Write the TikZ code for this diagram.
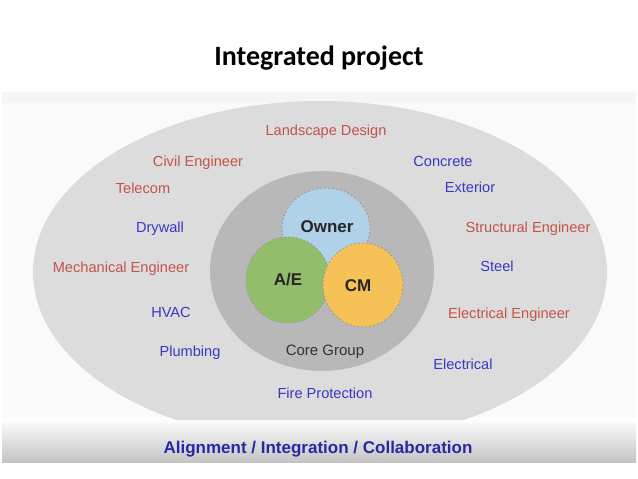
\documentclass[tikz,border=0pt]{standalone}
\usepackage{fontspec}
\setmainfont{Liberation Sans}
\newfontfamily\titlefont{Carlito}
\definecolor{redtxt}{RGB}{194,84,74}
\definecolor{bluetxt}{RGB}{56,56,192}
\definecolor{darkblue}{RGB}{40,40,165}
\definecolor{ellgray}{RGB}{220,220,220}
\definecolor{coregray}{RGB}{184,184,184}
\definecolor{ownerblue}{RGB}{176,210,232}
\definecolor{aegreen}{RGB}{146,189,106}
\definecolor{cmorange}{RGB}{246,194,88}
\definecolor{bandgray}{RGB}{196,196,196}
\tikzset{
  redlbl/.style={text=redtxt, font=\fontsize{14.6}{16}\selectfont, inner sep=0pt},
  bluelbl/.style={text=bluetxt, font=\fontsize{14.6}{16}\selectfont, inner sep=0pt},
  corelbl/.style={text=black!85, font=\fontsize{17}{19}\selectfont\bfseries, inner sep=0pt},
  partycircle/.style={draw=black!40, line width=0.8pt, dash pattern=on 2pt off 2pt}
}
\begin{document}
\begin{tikzpicture}[x=1pt,y=-1pt]
\useasboundingbox (0,0) rectangle (638,479);
\fill[white] (0,0) rectangle (638,479);
% title
\node[font=\titlefont\fontsize{28}{30}\selectfont\bfseries, inner sep=0pt] (title) at (319,58) {Integrated project};
% photo background
\fill[black!2] (2,92) rectangle (636,418);
\fill[black!4] (2,92) rectangle (636,103);
\shade[top color=white, bottom color=bandgray] (2,418) rectangle (636,462);
% outer ellipse (clipped above band)
\begin{scope}
\clip (2,92) rectangle (636,419);
\fill[ellgray] (320,272) ellipse [x radius=287, y radius=171];
\end{scope}
% core circle
\fill[coregray] (322,271) ellipse [x radius=112, y radius=100];
% party circles
\fill[ownerblue, partycircle] (326,228) ellipse [x radius=44, y radius=40];
\fill[aegreen, partycircle] (288,280) ellipse [x radius=42, y radius=43];
\fill[cmorange, partycircle] (363,285) ellipse [x radius=40, y radius=42];
\node[corelbl] (owner) at (327,227) {Owner};
\node[corelbl] (ae) at (288,280) {A/E};
\node[corelbl] (cm) at (358,286) {CM};
\node[text=black!80, font=\fontsize{15}{17}\selectfont, inner sep=0pt] (core) at (325,352) {Core Group};
% surrounding labels
\node[redlbl] (landscape) at (326,132) {Landscape Design};
\node[redlbl] (civil) at (198,163) {Civil Engineer};
\node[bluelbl] (concrete) at (443,161) {Concrete};
\node[redlbl] (telecom) at (143,188) {Telecom};
\node[bluelbl] (exterior) at (470,187) {Exterior};
\node[bluelbl] (drywall) at (160,229) {Drywall};
\node[redlbl] (structural) at (528,229) {Structural Engineer};
\node[redlbl] (mechanical) at (121,269) {Mechanical Engineer};
\node[bluelbl] (steel) at (497,266) {Steel};
\node[bluelbl] (hvac) at (171,312) {HVAC};
\node[redlbl] (electricaleng) at (509,315) {Electrical Engineer};
\node[bluelbl] (plumbing) at (190,353) {Plumbing};
\node[bluelbl] (electrical) at (463,364) {Electrical};
\node[bluelbl] (fire) at (325,393) {Fire Protection};
\node[text=darkblue, font=\fontsize{17}{19}\selectfont\bfseries, inner sep=0pt] (align) at (318,449) {Alignment / Integration / Collaboration};
\end{tikzpicture}
\end{document}
